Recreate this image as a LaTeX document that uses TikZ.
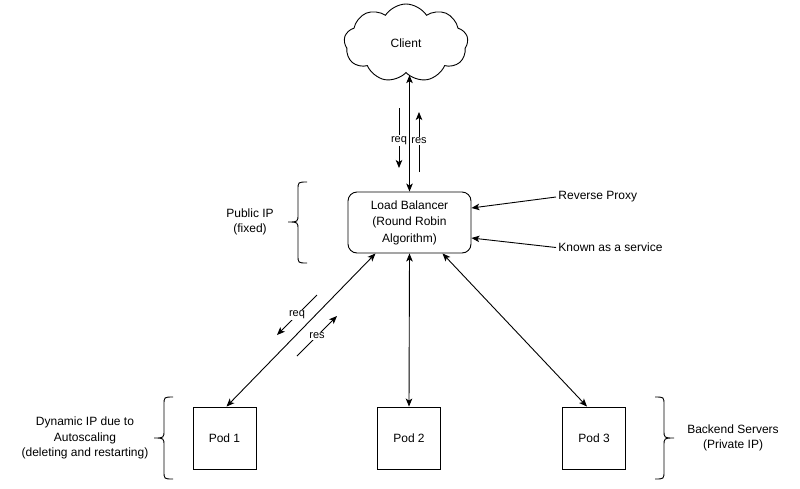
\documentclass[tikz,border=0pt]{standalone}
\usepackage{fontspec}
\setmainfont{Liberation Sans}
\usetikzlibrary{shapes.symbols,arrows.meta,calc}
\begin{document}
\begin{tikzpicture}[x=1pt,y=-1pt,
  line width=0.9pt,
  tip/.style={-{Stealth[length=8pt,width=6.5pt,inset=2pt]}},
  dtip/.style={{Stealth[length=8pt,width=6.5pt,inset=2pt]}-{Stealth[length=8pt,width=6.5pt,inset=2pt]}},
  txt/.style={font=\fontsize{12}{15.5}\selectfont, align=center, inner sep=2pt},
  small/.style={font=\fontsize{11}{13}\selectfont, fill=white, inner sep=1pt},
  podbox/.style={draw, minimum width=63pt, minimum height=62pt, inner sep=0pt, font=\fontsize{12}{15}\selectfont}
]
\useasboundingbox (0,0) rectangle (800,488);

% nodes
\node[cloud, draw, cloud puffs=9, cloud puff arc=115, aspect=1.6,
      minimum width=124pt, minimum height=78pt, inner sep=0pt,
      font=\fontsize{12}{15}\selectfont] (client) at (406,43) {Client};
\node[draw, rounded corners=9pt, minimum width=123pt, minimum height=61pt,
      align=center, font=\fontsize{12}{16.5}\selectfont] (lb) at (409.5,222.5)
      {Load Balancer\\(Round Robin\\Algorithm)};
\node[podbox] (pod1) at (224.5,438) {Pod 1};
\node[podbox] (pod2) at (409,438) {Pod 2};
\node[podbox] (pod3) at (594,438) {Pod 3};

\node[txt, anchor=west] (rp) at (556,197) {Reverse Proxy};
\node[txt, anchor=west] (svc) at (556,247.5) {Known as a service};
\node[txt] (pub) at (250,222) {Public IP\\(fixed)};
\node[txt] (dyn) at (85,438) {Dynamic IP due to\\Autoscaling\\(deleting and restarting)};
\node[txt] (back) at (733,438) {Backend Servers\\(Private IP)};

% main connectors
\draw[dtip] (lb.north) -- ($(client.south)+(3.5,2)$);
\draw[dtip] ($(lb.south)+(-34,0)$) -- ($(pod1.north)+(2,0)$);
\draw[dtip] (lb.south) -- (pod2.north);
\draw[dtip] ($(lb.south)+(33,0)$) -- ($(pod3.north)+(-7,0)$);

% side arrows
\draw[tip] (rp.west) -- ($(lb.east)+(0,-14.5)$);
\draw[tip] (svc.west) -- ($(lb.east)+(0,15.5)$);

% req / res labels
\coordinate (rqa) at (399,108);
\coordinate (rqb) at (399,168);
\coordinate (rsa) at (419,172);
\coordinate (rsb) at (419,112);
\draw[tip] (rqa) -- (rqb) node[small, pos=0.54] {req};
\draw[tip] (rsa) -- (rsb) node[small, pos=0.52] {res};

\coordinate (dqa) at (317,295);
\coordinate (dqb) at (277,335);
\coordinate (dsa) at (297,356);
\coordinate (dsb) at (337,316);
\draw[tip] (dqa) -- (dqb) node[small, midway] {req};
\draw[tip] (dsa) -- (dsb) node[small, midway] {res};

% braces
\draw[line width=0.9pt] (307,182) .. controls (298,182) .. (298,190)
   -- (298,214) .. controls (298,222) .. (288,222)
   .. controls (298,222) .. (298,230)
   -- (298,255) .. controls (298,263) .. (307,263);
\draw[line width=0.9pt] (173,397) .. controls (164,397) .. (164,405)
   -- (164,430) .. controls (164,438) .. (154,438)
   .. controls (164,438) .. (164,446)
   -- (164,471) .. controls (164,479) .. (173,479);
\draw[line width=0.9pt] (655,397) .. controls (664,397) .. (664,405)
   -- (664,430) .. controls (664,438) .. (674,438)
   .. controls (664,438) .. (664,446)
   -- (664,471) .. controls (664,479) .. (655,479);
\end{tikzpicture}
\end{document}
